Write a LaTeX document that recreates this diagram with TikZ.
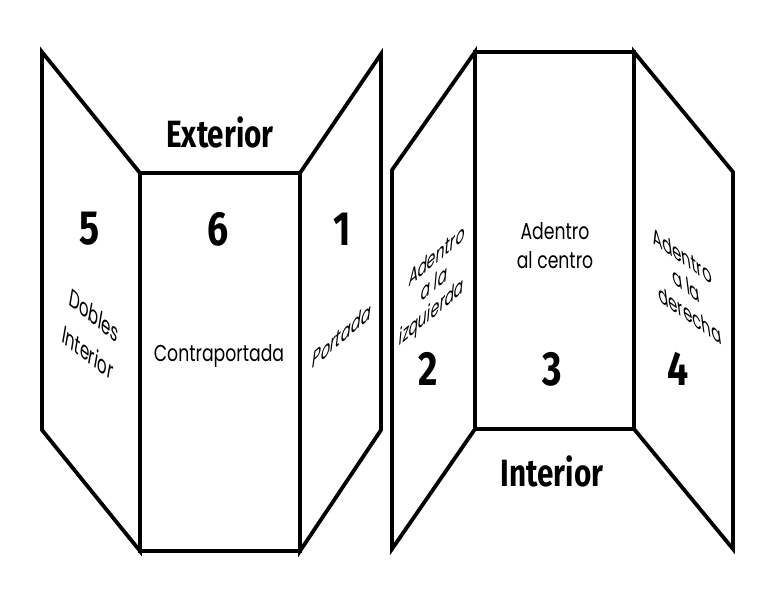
\documentclass[tikz,border=0pt]{standalone}
\usepackage{fontspec}
\setmainfont{Poppins}
\newfontfamily\lblfont[FakeStretch=0.75]{Poppins}
\newfontfamily\condfont[FakeStretch=0.78]{Fira Sans}
\begin{document}
\begin{tikzpicture}[x=1pt,y=-1pt,
  panel/.style={line width=3.8pt,line join=miter,draw=black},
  title/.style={font=\condfont\bfseries\fontsize{38}{42}\selectfont,inner sep=0pt},
  num/.style={font=\condfont\bfseries\fontsize{48}{50}\selectfont,inner sep=0pt},
  lbl/.style={font=\lblfont\fontsize{23}{29}\selectfont,align=center,inner sep=0pt}]
\useasboundingbox[fill=white] (0,0) rectangle (768,594);
% left figure (Exterior)
\coordinate (eLT) at (42,52);
\coordinate (eLB) at (42,430);
\coordinate (eCTL) at (140,173);
\coordinate (eCTR) at (300,173);
\coordinate (eCBL) at (140,551);
\coordinate (eCBR) at (300,551);
\coordinate (eRT) at (381,54);
\coordinate (eRB) at (381,430);
\draw[panel] (eLT) -- (eCTL) -- (eCBL) -- (eLB) -- cycle;
\draw[panel] (eCTL) -- (eCTR) -- (eCBR) -- (eCBL) -- cycle;
\draw[panel] (eCTR) -- (eRT) -- (eRB) -- (eCBR) -- cycle;
% right figure (Interior)
\coordinate (iCTL) at (475,52);
\coordinate (iCTR) at (634,52);
\coordinate (iCBL) at (475,429);
\coordinate (iCBR) at (634,429);
\coordinate (iLT) at (392,170);
\coordinate (iLB) at (392,549);
\coordinate (iRT) at (733,172);
\coordinate (iRB) at (733,549);
\draw[panel] (iCTL) -- (iLT) -- (iLB) -- (iCBL) -- cycle;
\draw[panel] (iCTL) -- (iCTR) -- (iCBR) -- (iCBL) -- cycle;
\draw[panel] (iCTR) -- (iRT) -- (iRB) -- (iCBR) -- cycle;
% texts
\node[title] (ext) at (220,132) {Exterior};
\node[title] (int) at (552,471) {Interior};
\node[num] (n5) at (90,229) {5};
\node[num] (n6) at (218,229) {6};
\node[num] (n1) at (342,229) {1};
\node[num] (n2) at (428,369) {2};
\node[num] (n3) at (552,369) {3};
\node[num] (n4) at (678,369) {4};
\node[lbl,font=\lblfont\fontsize{24}{38}\selectfont,cm={0.80,-0.63,0.17,0.985,(0,0)}] (dob) at (91,334) {Dobles\\Interior};
\node[lbl] (contra) at (219,356) {Contraportada};
\node[lbl,font=\lblfont\fontsize{25}{29}\selectfont,cm={0.78,0.68,0.13,0.99,(0,0)}] (port) at (342,335) {Portada};
\node[lbl] (cen) at (555,246) {Adentro\\al centro};
\node[lbl,font=\lblfont\fontsize{24}{28}\selectfont,cm={0.78,0.65,0.09,1.0,(0,0)}] (izq) at (434,286) {Adentro\\a la\\izquierda};
\node[lbl,font=\lblfont\fontsize{24}{30}\selectfont,cm={0.83,-0.58,-0.13,0.99,(0,0)}] (der) at (686,285) {Adentro\\a la\\derecha};
\end{tikzpicture}
\end{document}
